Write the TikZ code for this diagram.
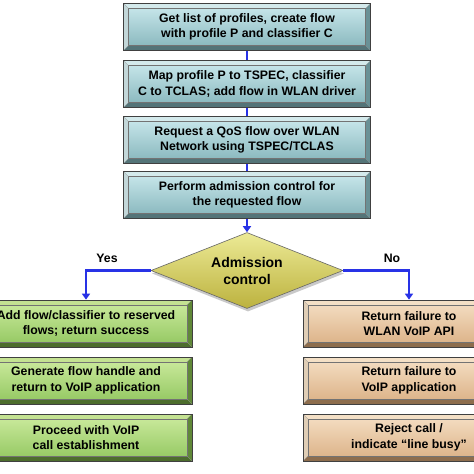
\documentclass[tikz,border=0pt]{standalone}
\usepackage{fontspec}
\setmainfont{Liberation Sans}
\usetikzlibrary{shapes.geometric,arrows.meta,shadows}
\definecolor{tealT}{RGB}{204,234,238}
\definecolor{tealB}{RGB}{132,180,186}
\definecolor{tealL}{RGB}{212,234,236}
\definecolor{tealD}{RGB}{105,145,150}
\definecolor{grnT}{RGB}{206,236,160}
\definecolor{grnB}{RGB}{145,198,95}
\definecolor{grnL}{RGB}{196,226,146}
\definecolor{grnD}{RGB}{96,136,56}
\definecolor{orT}{RGB}{246,224,198}
\definecolor{orB}{RGB}{218,176,132}
\definecolor{orL}{RGB}{244,224,198}
\definecolor{orD}{RGB}{176,136,96}
\definecolor{arrblue}{RGB}{40,50,230}
\definecolor{diaT}{RGB}{236,234,150}
\definecolor{diaB}{RGB}{188,178,62}
\newcommand\bevelpic[2]{%
 \coordinate (pa) at (path picture bounding box.north west);
 \coordinate (pb) at (path picture bounding box.north east);
 \coordinate (pc) at (path picture bounding box.south east);
 \coordinate (pd) at (path picture bounding box.south west);
 \coordinate (qa) at ([shift={(5pt,-5pt)}]pa);
 \coordinate (qb) at ([shift={(-5pt,-5pt)}]pb);
 \coordinate (qc) at ([shift={(-5pt,5pt)}]pc);
 \coordinate (qd) at ([shift={(5pt,5pt)}]pd);
 \fill[#1] (pa)--(pb)--(qb)--(qa)--cycle;
 \fill[#1!92!black] (pa)--(qa)--(qd)--(pd)--cycle;
 \fill[#2] (pb)--(pc)--(qc)--(qb)--cycle;
 \fill[#2!80!black] (pd)--(pc)--(qc)--(qd)--cycle;
 \draw[black!55, line width=0.5pt] (qa) rectangle (qc);
 \draw[black!40, line width=0.3pt] (pa)--(qa) (pb)--(qb) (pc)--(qc) (pd)--(qd);
}
\tikzset{
 bbox/.style={draw=black!75, line width=0.7pt, minimum height=47pt, inner sep=0pt, align=center, font=\bfseries\fontsize{12.3}{15.5}\selectfont},
 tealbox/.style={bbox, minimum width=247pt, top color=tealT, bottom color=tealB, path picture={\bevelpic{tealL}{tealD}}},
 grnbox/.style={bbox, minimum width=212pt, top color=grnT, bottom color=grnB, path picture={\bevelpic{grnL}{grnD}}},
 orbox/.style={bbox, minimum width=212pt, top color=orT, bottom color=orB, path picture={\bevelpic{orL}{orD}}},
 link/.style={draw=arrblue, line width=2.6pt},
 arr/.style={link, -{Triangle[width=8pt,length=6pt]}},
 lbl/.style={inner sep=0pt, font=\bfseries\fontsize{12.3}{15}\selectfont},
 decision/.style={diamond, draw=black!60, line width=0.6pt, minimum width=192pt, minimum height=76pt, aspect=2.5, inner sep=0pt, top color=diaT, bottom color=diaB, drop shadow={shadow xshift=1pt, shadow yshift=-3pt, opacity=0.35, fill=black!60}, align=center, font=\bfseries\fontsize{14}{17}\selectfont}
}
\begin{document}
\begin{tikzpicture}[x=1pt,y=-1pt]
\path[use as bounding box, fill=white] (0,0) rectangle (474,474);
\node[tealbox] (b1) at (247,27) {Get list of profiles, create flow\\with profile P and classifier C};
\node[tealbox] (b2) at (247,84) {Map profile P to TSPEC, classifier\\C to TCLAS; add flow in WLAN driver};
\node[tealbox] (b3) at (247,140) {Request a QoS flow over WLAN\\Network using TSPEC/TCLAS};
\node[tealbox] (b4) at (247,195) {Perform admission control for\\the requested flow};
\node[decision] (dec) at (247,270.5) {Admission\\control};
\node[grnbox] (g1) at (86,323.5) {Add flow/classifier to reserved\\flows; return success};
\node[grnbox] (g2) at (86,380.5) {Generate flow handle and\\return to VoIP application};
\node[grnbox] (g3) at (86,437.5) {Proceed with VoIP\\call establishment};
\node[orbox] (r1) at (409,323.5) {Return failure to\\WLAN VoIP API};
\node[orbox] (r2) at (409,380.5) {Return failure to\\VoIP application};
\node[orbox] (r3) at (409,437.5) {Reject call /\\indicate “line busy”};
\node[lbl] (yes) at (107,258) {Yes};
\node[lbl] (no) at (392,258) {No};
\draw[link] (b1) -- (b2);
\draw[link] (b2) -- (b3);
\draw[link] (b3) -- (b4);
\draw[arr] (b4) -- (dec);
\draw[arr] (dec.west) -| (g1.north);
\draw[arr] (dec.east) -| (r1.north);
\end{tikzpicture}
\end{document}
